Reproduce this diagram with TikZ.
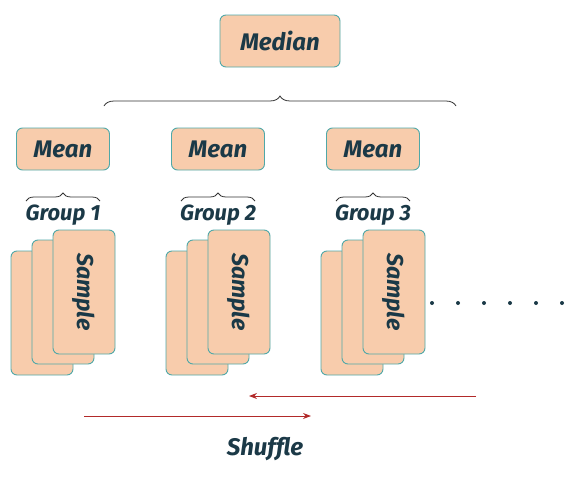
\documentclass[tikz,border=0pt]{standalone}
\usepackage{fontspec}
\setmainfont{Fira Sans}
\usetikzlibrary{decorations.pathreplacing,arrows.meta}
\definecolor{peach}{HTML}{F8CCAC}
\definecolor{tealb}{HTML}{4FA8A8}
\definecolor{txt}{HTML}{1B3947}
\definecolor{arr}{HTML}{B22A2A}
\begin{document}
\begin{tikzpicture}[x=1pt,y=-1pt,
  box/.style={draw=tealb,fill=peach,line width=0.9pt,rounded corners=6pt,text=txt,font=\fontsize{24}{26}\selectfont\bfseries\itshape},
  card/.style={box,minimum width=62pt,minimum height=124pt,inner sep=0pt},
  lbl/.style={text=txt,font=\fontsize{22}{24}\selectfont\bfseries\itshape,inner sep=0pt},
  brc/.style={draw=black!80,line width=0.8pt,decorate,decoration={brace,amplitude=#1}},
  shuf/.style={draw=arr,line width=0.8pt,-{Stealth[length=8pt,width=6pt]}},
  dot/.style={circle,fill=txt,inner sep=0pt,minimum size=4pt}]
\useasboundingbox (0,0) rectangle (574,498);
\node[box,minimum width=120pt,minimum height=52pt] (median) at (280,41) {Median};
\coordinate (bl) at (104,106);
\coordinate (br) at (456,106);
\draw[brc=10pt] (bl) -- (br);
\foreach \i/\x in {1/63,2/218,3/373}{
  \node[box,minimum width=93pt,minimum height=42pt] (mean\i) at (\x,149) {Mean};
  \coordinate (sbl\i) at (\x-37,201);
  \coordinate (sbr\i) at (\x+37,201);
  \draw[brc=8pt] (sbl\i) -- (sbr\i);
  \node[lbl] (group\i) at (\x,215) {Group \i};
  \node[card] (back\i) at (\x-21,313) {};
  \node[card] (mid\i) at (\x,302) {};
  \node[card] (front\i) at (\x+21,292) {};
  \node[lbl,font=\fontsize{23}{25}\selectfont\bfseries\itshape,rotate=-90] (sample\i) at (front\i.center) {Sample};
}
\foreach \k/\x in {1/432,2/458,3/484,4/510,5/536,6/562}{
  \node[dot] (d\k) at (\x,303) {};
}
\coordinate (a1s) at (476,396);
\coordinate (a1e) at (249,396);
\coordinate (a2s) at (84,416);
\coordinate (a2e) at (311,416);
\draw[shuf] (a1s) -- (a1e);
\draw[shuf] (a2s) -- (a2e);
\node[lbl,font=\fontsize{24}{26}\selectfont\bfseries\itshape] (shuffle) at (265,449) {Shuffle};
\end{tikzpicture}
\end{document}
